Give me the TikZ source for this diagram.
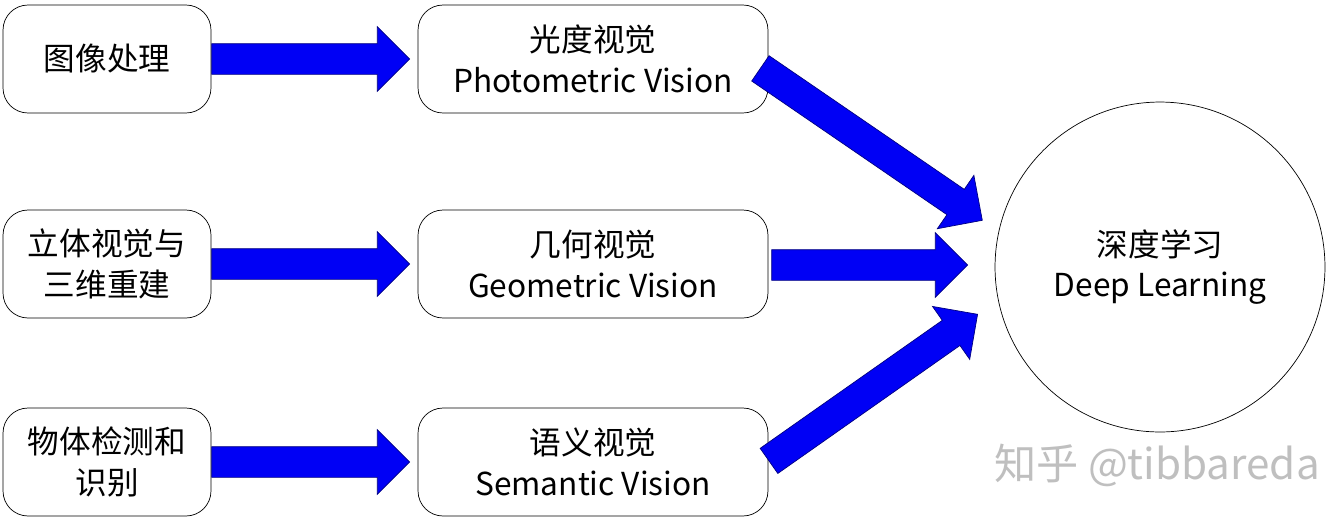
\documentclass[tikz,border=0pt]{standalone}
\usepackage{fontspec}
\setmainfont{Noto Sans CJK SC}
\usetikzlibrary{shapes.arrows,calc,positioning}
\definecolor{arrowblue}{RGB}{0,0,245}
\tikzset{
  srcbox/.style={draw,rounded corners=0.5cm,minimum width=4.16cm,minimum height=2.16cm,align=center,font=\fontsize{18}{23}\selectfont},
  visbox/.style={draw,rounded corners=0.5cm,minimum width=7cm,minimum height=2.16cm,align=center,font=\fontsize{18}{23}\selectfont},
  bigarrow/.style={single arrow,draw=blue!50!black,fill=arrowblue,inner xsep=0pt,inner ysep=0.3cm,minimum width=1.28cm,single arrow head extend=0.34cm,single arrow tip angle=90}
}
\begin{document}
\begin{tikzpicture}[x=0.02cm,y=-0.02cm]
  \useasboundingbox (0,0) rectangle (1328,522);
  % left column
  \node[srcbox] (img) at (107,59) {图像处理};
  \node[srcbox] (stereo) at (107,264) {立体视觉与\\三维重建};
  \node[srcbox] (detect) at (107,462) {物体检测和\\识别};
  % middle column
  \node[visbox] (photo) at (593,59) {光度视觉\\Photometric Vision};
  \node[visbox] (geo) at (593,264) {几何视觉\\Geometric Vision};
  \node[visbox] (sem) at (593,462) {语义视觉\\Semantic Vision};
  % deep learning
  \node[draw,circle,minimum size=6.6cm,align=center,font=\fontsize{18}{23}\selectfont] (dl) at (1160,267) {深度学习\\Deep Learning};
  % block arrows
  \node[bigarrow,minimum height=3.96cm] (a1) at (303,59) {};
  \node[bigarrow,minimum height=3.96cm] (a2) at (303,264) {};
  \node[bigarrow,minimum height=3.96cm] (a3) at (303,462) {};
  \node[bigarrow,minimum height=5.38cm,rotate=-34.4] (b1) at (865,140) {};
  \node[bigarrow,minimum height=3.92cm] (b2) at (862,265) {};
  \node[bigarrow,minimum height=5.1cm,rotate=35.1] (b3) at (867,392) {};
  % watermark
  \node[text=black!25,font=\fontsize{24}{28}\selectfont,anchor=west] (wm) at (988,465) {知乎 @tibbareda};
\end{tikzpicture}
\end{document}
